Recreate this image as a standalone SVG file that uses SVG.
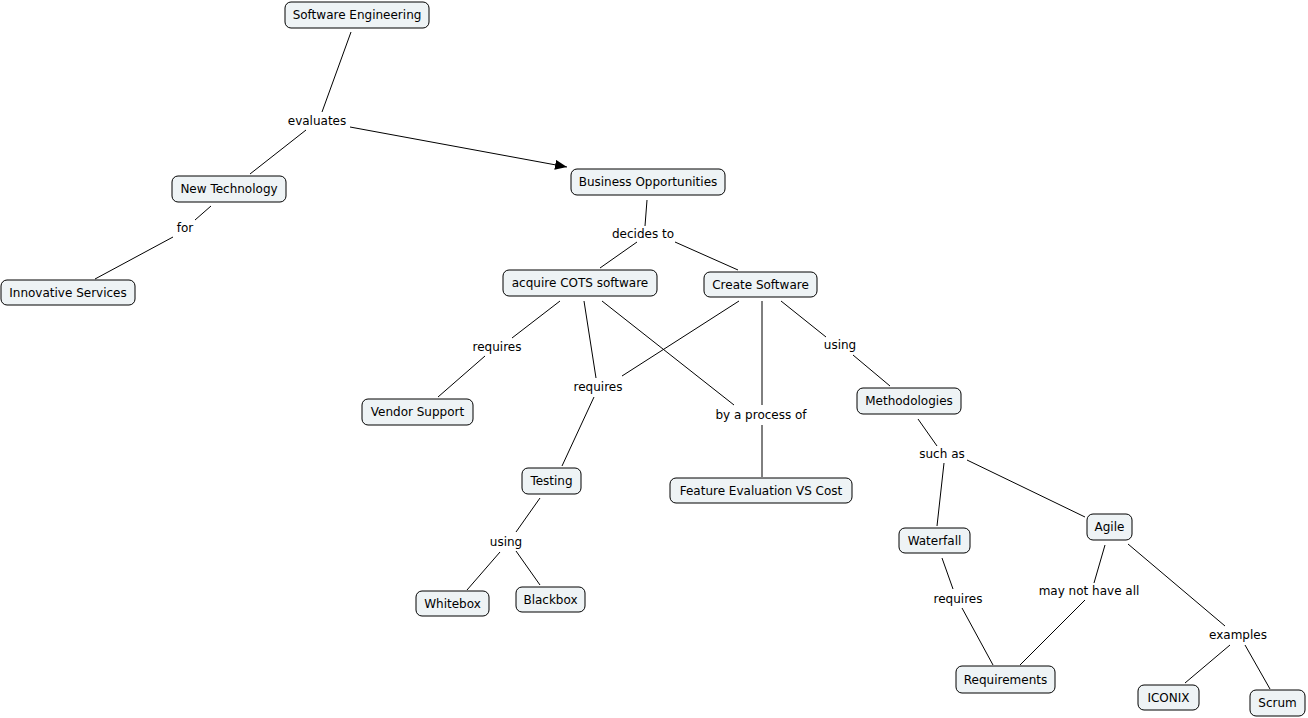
<svg xmlns="http://www.w3.org/2000/svg" width="1308" height="718" viewBox="0 0 1308 718">
<style>
.n rect{fill:#eef3f5;stroke:#000;stroke-width:1}
text{font-family:"DejaVu Sans",Verdana,sans-serif;font-size:12px;fill:#000;text-anchor:middle;dominant-baseline:central}
.c line{stroke:#000;stroke-width:1}
</style>
<defs>
<marker id="ah" viewBox="0 0 12 10" refX="12" refY="5" markerWidth="12" markerHeight="10" markerUnits="userSpaceOnUse" orient="auto"><path d="M0,0L12,5L0,10z" fill="#000"/></marker>
</defs>
<rect width="1308" height="718" fill="#fff"/>
<g id="connectors" class="c">
<line x1="351" y1="32" x2="322" y2="112"/>
<line x1="306" y1="130" x2="250" y2="174"/>
<line x1="350" y1="127" x2="567" y2="167" marker-end="url(#ah)"/>
<line x1="211" y1="206" x2="195" y2="220"/>
<line x1="173" y1="237" x2="95" y2="279"/>
<line x1="647" y1="200" x2="645" y2="226"/>
<line x1="637" y1="242" x2="600" y2="268"/>
<line x1="675" y1="242" x2="738" y2="270"/>
<line x1="560" y1="301" x2="512" y2="338"/>
<line x1="485" y1="356" x2="438" y2="397"/>
<line x1="584" y1="301" x2="596" y2="378"/>
<line x1="739" y1="301" x2="622" y2="376"/>
<line x1="594" y1="397" x2="562" y2="466"/>
<line x1="602" y1="301" x2="734" y2="405"/>
<line x1="762" y1="301" x2="762" y2="405"/>
<line x1="762" y1="425" x2="762" y2="477"/>
<line x1="781" y1="301" x2="826" y2="337"/>
<line x1="853" y1="355" x2="890" y2="386"/>
<line x1="918" y1="419" x2="937" y2="446"/>
<line x1="944" y1="463" x2="937" y2="526"/>
<line x1="967" y1="460" x2="1085" y2="517"/>
<line x1="540" y1="498" x2="516" y2="532"/>
<line x1="500" y1="552" x2="467" y2="590"/>
<line x1="516" y1="551" x2="540" y2="585"/>
<line x1="942" y1="558" x2="953" y2="589"/>
<line x1="962" y1="608" x2="993" y2="665"/>
<line x1="1105" y1="545" x2="1094" y2="583"/>
<line x1="1085" y1="600" x2="1020" y2="665"/>
<line x1="1128" y1="544" x2="1225" y2="626"/>
<line x1="1230" y1="645" x2="1185" y2="683"/>
<line x1="1245" y1="645" x2="1270" y2="689"/>
</g>
<g id="labels">
<text x="317" y="121">evaluates</text>
<text x="185" y="228">for</text>
<text x="643" y="234">decides to</text>
<text x="497" y="347">requires</text>
<text x="598" y="387">requires</text>
<text x="761" y="415">by a process of</text>
<text x="840" y="345">using</text>
<text x="942" y="454">such as</text>
<text x="506" y="542">using</text>
<text x="958" y="599">requires</text>
<text x="1089" y="591">may not have all</text>
<text x="1238" y="635">examples</text>
</g>
<g id="n-software-engineering" class="n"><rect x="285" y="2" width="144" height="26" rx="6"/><text x="357" y="15">Software Engineering</text></g>
<g id="n-new-technology" class="n"><rect x="172" y="176" width="114" height="26" rx="6"/><text x="229" y="189">New Technology</text></g>
<g id="n-innovative-services" class="n"><rect x="1" y="280" width="134" height="25" rx="6"/><text x="68" y="292.5">Innovative Services</text></g>
<g id="n-business-opportunities" class="n"><rect x="571" y="169" width="154" height="26" rx="6"/><text x="648" y="182">Business Opportunities</text></g>
<g id="n-acquire-cots" class="n"><rect x="503" y="270" width="154" height="26" rx="6"/><text x="580" y="283">acquire COTS software</text></g>
<g id="n-create-software" class="n"><rect x="704" y="272" width="113" height="25" rx="6"/><text x="760.5" y="284.5">Create Software</text></g>
<g id="n-vendor-support" class="n"><rect x="362" y="399" width="111" height="26" rx="6"/><text x="417.5" y="412">Vendor Support</text></g>
<g id="n-testing" class="n"><rect x="522" y="468" width="59" height="26" rx="6"/><text x="551.5" y="481">Testing</text></g>
<g id="n-feature-evaluation" class="n"><rect x="670" y="478" width="182" height="25" rx="6"/><text x="761" y="490.5">Feature Evaluation VS Cost</text></g>
<g id="n-methodologies" class="n"><rect x="857" y="388" width="104" height="26" rx="6"/><text x="909" y="401">Methodologies</text></g>
<g id="n-waterfall" class="n"><rect x="899" y="528" width="71" height="25" rx="6"/><text x="934.5" y="540.5">Waterfall</text></g>
<g id="n-agile" class="n"><rect x="1087" y="514" width="45" height="26" rx="6"/><text x="1109.5" y="527">Agile</text></g>
<g id="n-whitebox" class="n"><rect x="416" y="591" width="73" height="25" rx="6"/><text x="452.5" y="603.5">Whitebox</text></g>
<g id="n-blackbox" class="n"><rect x="516" y="587" width="69" height="25" rx="6"/><text x="550.5" y="599.5">Blackbox</text></g>
<g id="n-requirements" class="n"><rect x="956" y="666" width="99" height="27" rx="6"/><text x="1005.5" y="679.5">Requirements</text></g>
<g id="n-iconix" class="n"><rect x="1138" y="685" width="61" height="25" rx="6"/><text x="1168.5" y="697.5">ICONIX</text></g>
<g id="n-scrum" class="n"><rect x="1250" y="690" width="55" height="26" rx="6"/><text x="1277.5" y="703">Scrum</text></g>
</svg>
